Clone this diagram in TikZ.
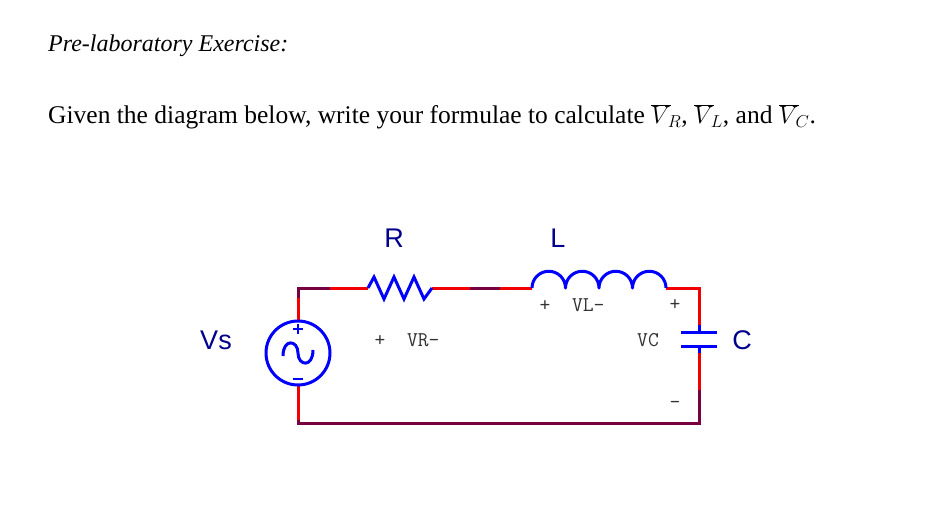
\documentclass[tikz,border=0pt]{standalone}
\usepackage{fontspec}
\setmainfont{Liberation Serif}
\setsansfont{Liberation Sans}
\begin{document}
\begin{tikzpicture}[x=1pt,y=-1pt,
  wire/.style={red!95!black,line width=3pt},
  dwire/.style={color={rgb,255:red,120;green,0;blue,64},line width=3pt},
  comp/.style={blue,line width=3pt},
  big/.style={font=\sffamily\fontsize{27}{29}\selectfont,text={rgb,255:red,0;green,0;blue,140}},
  mono/.style={font=\ttfamily\fontsize{21}{23}\selectfont,text=black!80}]
\useasboundingbox (0,0) rectangle (926,532);
\node[anchor=west,font=\itshape\fontsize{24}{26}\selectfont,inner sep=0pt] (t1) at (48,46) {Pre-laboratory Exercise:};
\node[anchor=west,font=\fontsize{25.5}{27}\selectfont,inner sep=0pt] (t2) at (48,117) {Given the diagram below, write your formulae to calculate $\overline{V}_{\!R}$, $\overline{V}_{\!L}$, and $\overline{V}_{\!C}$.};
% coordinates
\coordinate (tl) at (298,288); \coordinate (tr) at (699,288);
\coordinate (bl) at (298,423); \coordinate (br) at (699,423);
% wires
\draw[dwire] (298,300) -- (tl) -- (330,288);
\draw[wire] (298,321) -- (298,298);
\draw[wire] (330,288) -- (368,288);
\draw[wire] (432,288) -- (470,288);
\draw[dwire] (470,288) -- (500,288);
\draw[wire] (500,288) -- (532,288);
\draw[wire] (666,288) -- (tr) -- (699,332);
\draw[wire] (699,346) -- (699,392);
\draw[dwire] (699,390) -- (br) -- (bl) -- (298,418);
\draw[wire] (298,385) -- (298,420);
% source
\node[draw=blue,line width=3pt,circle,minimum size=64pt,inner sep=0pt] (vs) at (298,353) {};
\draw[comp] (283,356) .. controls (283,338) and (298,340) .. (298,353) .. controls (298,366) and (313,368) .. (313,350);
\draw[blue,line width=2.2pt] (293,329) -- (303,329) (298,324) -- (298,334);
\draw[blue,line width=2.2pt] (293,379) -- (303,379);
% resistor
\draw[comp,line join=miter] (368,288) -- (374,277) -- (384,299) -- (394,277) -- (404,299) -- (414,277) -- (424,299) -- (432,288);
% inductor
\draw[comp,line join=round] (532,288) arc (180:360:16.75) arc (180:360:16.75) arc (180:360:16.75) arc (180:360:16.75);
% capacitor
\draw[comp] (681,332) -- (717,332) (681,346) -- (717,346);
\draw[blue,line width=3pt] (699,325) -- (699,332) (699,346) -- (699,353);
% labels
\node[big] (R) at (394,238) {R};
\node[big] (L) at (558,238) {L};
\node[big] (Vs) at (216,340) {Vs};
\node[big] (C) at (742,340) {C};
\node[mono] (vr) at (407,340) {+\ \ VR-};
\node[mono] (vl) at (572,305) {+\ \ VL-};
\node[mono] (vcp) at (675,305) {+};
\node[mono] (vc) at (648,340) {VC};
\node[mono] (vcm) at (675,405) {-};
\end{tikzpicture}
\end{document}
